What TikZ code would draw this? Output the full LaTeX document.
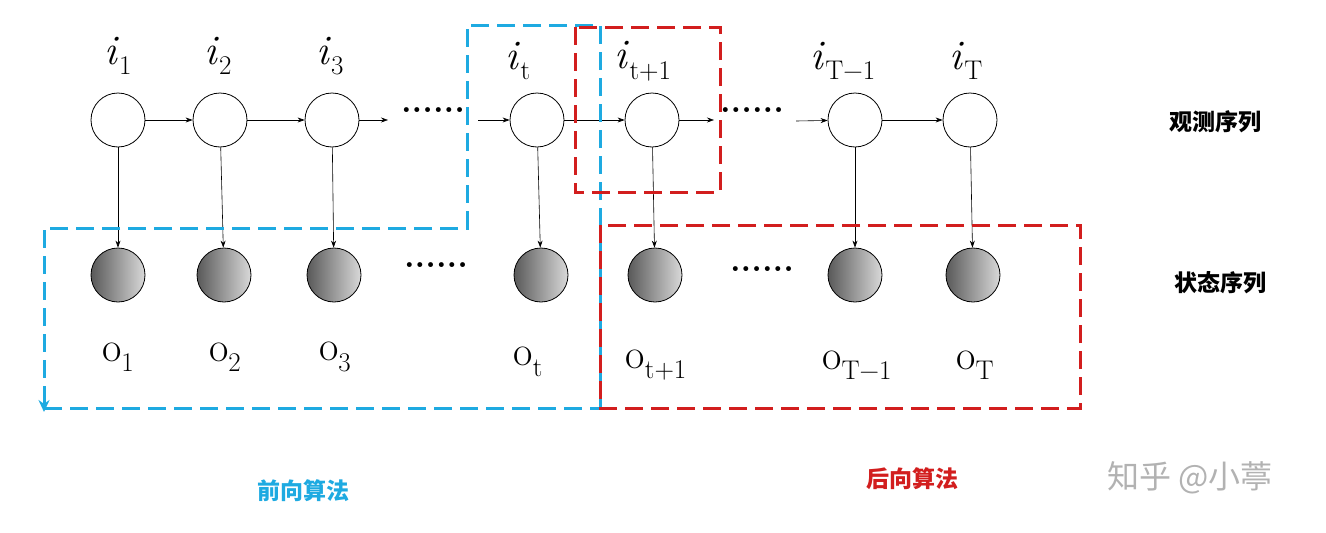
\documentclass[tikz,border=0pt]{standalone}
\usepackage{fontspec}
\newfontfamily\cjk{Noto Sans CJK SC}
\usetikzlibrary{arrows.meta}
\newcommand\mylb[2]{#1\raisebox{-0.25em}{\fontsize{27}{27}\selectfont #2}}
\begin{document}
\begin{tikzpicture}[x=1pt,y=-1pt,
 st/.style={circle,draw,thick,minimum size=54pt,inner sep=0pt,fill=white},
 ob/.style={circle,draw,thick,minimum size=54pt,inner sep=0pt,left color=gray!70!black,right color=gray!30},
 lab/.style={font=\fontsize{42}{42}\selectfont},
 ar/.style={-{Stealth[length=7pt,width=5pt]},line width=0.6pt},
 dt/.style={font=\fontsize{34}{34}\selectfont\bfseries},
 cn/.style={font=\fontsize{23}{23}\selectfont\cjk\bfseries}]
\definecolor{bl}{RGB}{30,170,225}
\definecolor{rd}{RGB}{210,30,30}
\useasboundingbox (0,0) rectangle (1326,533);
\foreach \n/\x in {1/118,2/220,3/332,t/537,t1/652,T1/855,T/970}{\node[st] (s\n) at (\x,120) {};}
\foreach \n/\x in {1/118,2/224,3/334,t/541,t1/655,T1/855,T/973}{\node[ob] (o\n) at (\x,275) {};}
\foreach \n in {1,2,3,t,t1,T1,T}{\draw[ar] (s\n) -- (o\n);}
\node[dt] (d1) at (433,110) {......};
\node[dt] (d2) at (752,110) {......};
\node[dt] (d3) at (436,265) {......};
\node[dt] (d4) at (762,269) {......};
\coordinate (a1) at (388,120); \coordinate (a2) at (478,120);
\coordinate (a3) at (714,120); \coordinate (a4) at (796,121);
\draw[ar] (s1) -- (s2); \draw[ar] (s2) -- (s3); \draw[ar] (s3) -- (a1);
\draw[ar] (a2) -- (st); \draw[ar] (st) -- (st1); \draw[ar] (st1) -- (a3);
\draw[ar] (a4) -- (sT1); \draw[ar] (sT1) -- (sT);
\foreach \t/\x/\y in {1/118/56,2/218/56,3/330/56,t/518/61,t+1/643/61,T−1/843/61,T/966/61}
 {\node[lab] at (\x,\y) {\mylb{\textit{i}}{\t}};}
\foreach \t/\x/\y in {1/118/357,2/225/357,3/335/357,t/528/362,t+1/656/365,T−1/857/365,T/975/365}
 {\node[lab] at (\x,\y) {\mylb{o}{\t}};}
\draw[bl,line width=3pt,dash pattern=on 18pt off 8pt,-{Stealth[length=12pt,width=11pt]}] (600,408)--(600,25)--(467,25)--(467,228)--(44,228)--(44,412);
\draw[bl,line width=3pt,dash pattern=on 18pt off 8pt] (44,408)--(600,408);
\draw[rd,line width=3pt,dash pattern=on 18pt off 8pt] (575,27) rectangle (720,192);
\draw[rd,line width=3pt,dash pattern=on 18pt off 8pt] (600,225) rectangle (1080,408);
\node[cn] (c1) at (1215,122) {观测序列};
\node[cn] (c2) at (1220,283) {状态序列};
\node[cn,bl] (c3) at (303,491) {前向算法};
\node[cn,rd] (c4) at (912,479) {后向算法};
\node[font=\fontsize{32}{32}\selectfont\cjk,gray!60] (w) at (1190,478) {知乎 @小葶};
\end{tikzpicture}
\end{document}
